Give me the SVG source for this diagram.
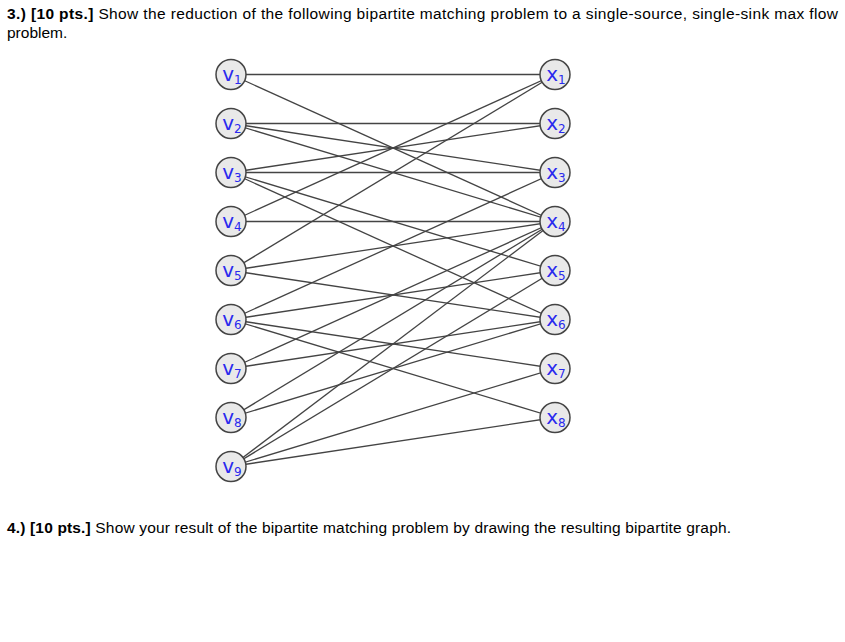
<svg xmlns="http://www.w3.org/2000/svg" width="845" height="642" viewBox="0 0 845 642">
<style>
.q{font-family:"Liberation Sans",Arial,sans-serif;font-size:15.5px;fill:#000}
.b{font-weight:bold}
.e line{stroke:#444;stroke-width:1.3}
.n circle{fill:#e9e9e9;stroke:#444;stroke-width:1.5}
.n text{font-family:"DejaVu Sans",sans-serif;font-size:20px;fill:#2a2aee;text-anchor:middle}
.n tspan{font-size:12px}
</style>
<rect width="845" height="642" fill="#fff"/>
<text class="q" x="7" y="19" textLength="831" lengthAdjust="spacing"><tspan class="b">3.) [10 pts.]</tspan> Show the reduction of the following bipartite matching problem to a single-source, single-sink max flow</text>
<text class="q" x="7" y="38">problem.</text>
<text class="q" x="7" y="533" textLength="724" lengthAdjust="spacing"><tspan class="b">4.) [10 pts.]</tspan> Show your result of the bipartite matching problem by drawing the resulting bipartite graph.</text>
<g id="edges" class="e">
<line x1="231" y1="74.5" x2="555" y2="74.5"/>
<line x1="231" y1="74.5" x2="555" y2="221.5"/>
<line x1="231" y1="123.5" x2="555" y2="123.5"/>
<line x1="231" y1="123.5" x2="555" y2="172.5"/>
<line x1="231" y1="123.5" x2="555" y2="221.5"/>
<line x1="231" y1="172.5" x2="555" y2="123.5"/>
<line x1="231" y1="172.5" x2="555" y2="172.5"/>
<line x1="231" y1="172.5" x2="555" y2="270.5"/>
<line x1="231" y1="172.5" x2="555" y2="319.5"/>
<line x1="231" y1="221.5" x2="555" y2="74.5"/>
<line x1="231" y1="221.5" x2="555" y2="221.5"/>
<line x1="231" y1="270.5" x2="555" y2="74.5"/>
<line x1="231" y1="270.5" x2="555" y2="221.5"/>
<line x1="231" y1="270.5" x2="555" y2="319.5"/>
<line x1="231" y1="319.5" x2="555" y2="172.5"/>
<line x1="231" y1="319.5" x2="555" y2="270.5"/>
<line x1="231" y1="319.5" x2="555" y2="368.5"/>
<line x1="231" y1="319.5" x2="555" y2="417.5"/>
<line x1="231" y1="368.5" x2="555" y2="221.5"/>
<line x1="231" y1="368.5" x2="555" y2="319.5"/>
<line x1="231" y1="417.5" x2="555" y2="221.5"/>
<line x1="231" y1="417.5" x2="555" y2="319.5"/>
<line x1="231" y1="466.5" x2="555" y2="221.5"/>
<line x1="231" y1="466.5" x2="555" y2="270.5"/>
<line x1="231" y1="466.5" x2="555" y2="368.5"/>
<line x1="231" y1="466.5" x2="555" y2="417.5"/>
</g>
<g id="v1" class="n"><circle cx="231" cy="74.5" r="15"/><text x="232" y="81">v<tspan dy="3">1</tspan></text></g>
<g id="v2" class="n"><circle cx="231" cy="123.5" r="15"/><text x="232" y="130">v<tspan dy="3">2</tspan></text></g>
<g id="v3" class="n"><circle cx="231" cy="172.5" r="15"/><text x="232" y="179">v<tspan dy="3">3</tspan></text></g>
<g id="v4" class="n"><circle cx="231" cy="221.5" r="15"/><text x="232" y="228">v<tspan dy="3">4</tspan></text></g>
<g id="v5" class="n"><circle cx="231" cy="270.5" r="15"/><text x="232" y="277">v<tspan dy="3">5</tspan></text></g>
<g id="v6" class="n"><circle cx="231" cy="319.5" r="15"/><text x="232" y="326">v<tspan dy="3">6</tspan></text></g>
<g id="v7" class="n"><circle cx="231" cy="368.5" r="15"/><text x="232" y="375">v<tspan dy="3">7</tspan></text></g>
<g id="v8" class="n"><circle cx="231" cy="417.5" r="15"/><text x="232" y="424">v<tspan dy="3">8</tspan></text></g>
<g id="v9" class="n"><circle cx="231" cy="466.5" r="15"/><text x="232" y="473">v<tspan dy="3">9</tspan></text></g>
<g id="x1" class="n"><circle cx="555" cy="74.5" r="15"/><text x="556" y="81">x<tspan dy="3">1</tspan></text></g>
<g id="x2" class="n"><circle cx="555" cy="123.5" r="15"/><text x="556" y="130">x<tspan dy="3">2</tspan></text></g>
<g id="x3" class="n"><circle cx="555" cy="172.5" r="15"/><text x="556" y="179">x<tspan dy="3">3</tspan></text></g>
<g id="x4" class="n"><circle cx="555" cy="221.5" r="15"/><text x="556" y="228">x<tspan dy="3">4</tspan></text></g>
<g id="x5" class="n"><circle cx="555" cy="270.5" r="15"/><text x="556" y="277">x<tspan dy="3">5</tspan></text></g>
<g id="x6" class="n"><circle cx="555" cy="319.5" r="15"/><text x="556" y="326">x<tspan dy="3">6</tspan></text></g>
<g id="x7" class="n"><circle cx="555" cy="368.5" r="15"/><text x="556" y="375">x<tspan dy="3">7</tspan></text></g>
<g id="x8" class="n"><circle cx="555" cy="417.5" r="15"/><text x="556" y="424">x<tspan dy="3">8</tspan></text></g>
</svg>
